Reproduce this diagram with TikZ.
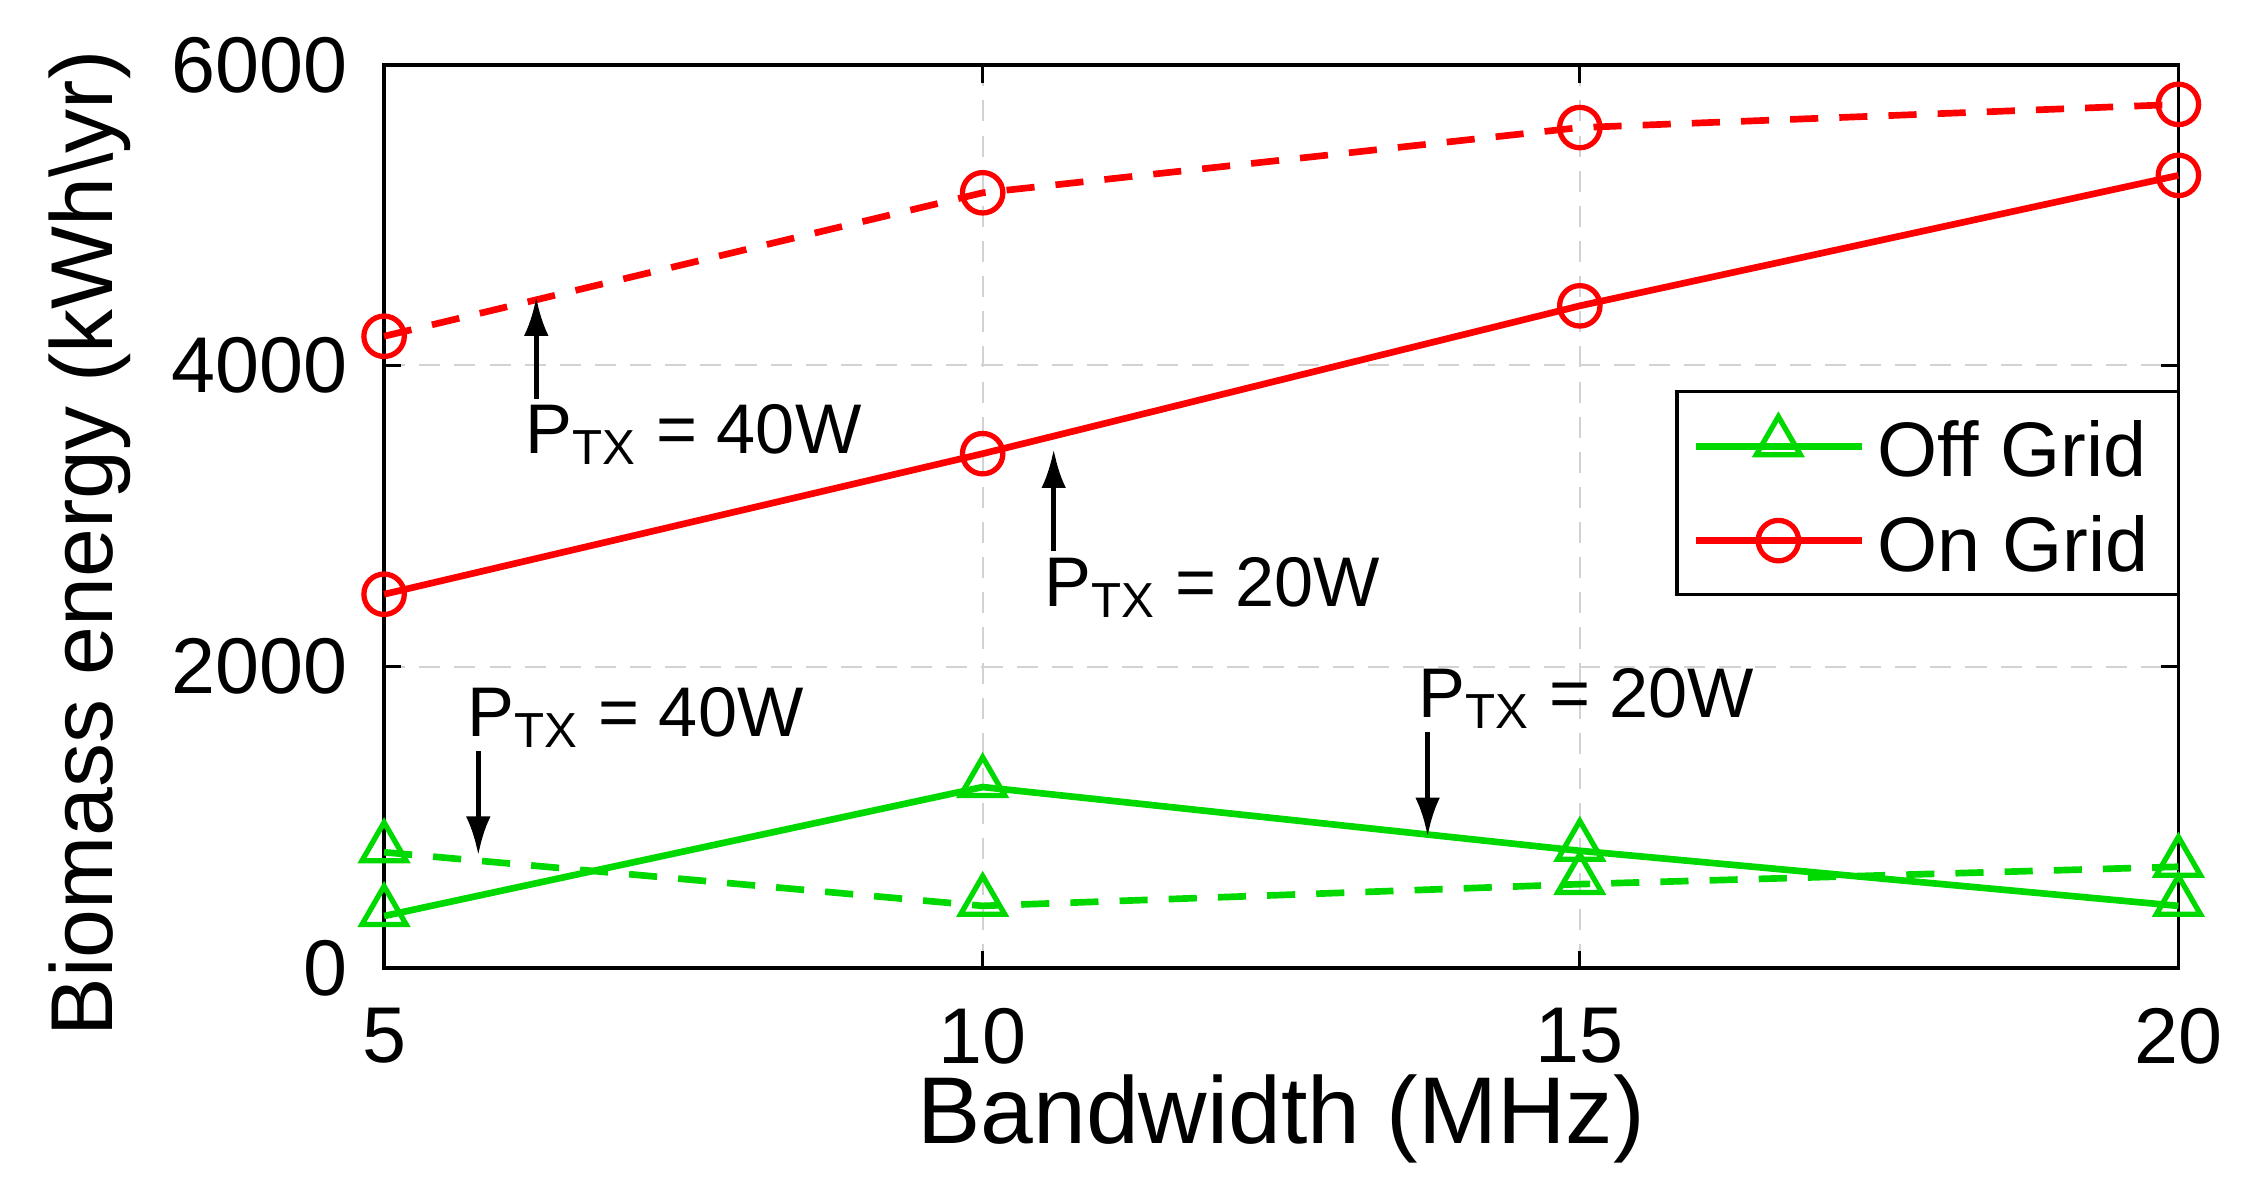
\documentclass[tikz,border=0pt]{standalone}
\usepackage{fontspec}
\setmainfont{Liberation Sans}
\usetikzlibrary{arrows.meta,shapes.geometric}
\begin{document}
\begin{tikzpicture}[x=0.01449cm,y=-0.01449cm,
  ln/.style={line width=1.9pt},
  dsh/.style={ln,dash pattern=on 8pt off 6pt},
  grd/.style={draw=gray!35,line width=0.6pt,dash pattern=on 6pt off 4pt},
  omark/.style={circle,draw=red,line width=1.5pt,inner sep=0pt,minimum size=11.5pt},
  tmark/.style={regular polygon,regular polygon sides=3,draw=green!85!black,line width=1.5pt,inner sep=0pt,minimum size=14.5pt},
  ann/.style={font=\fontsize{20}{23}\selectfont,anchor=west,inner sep=0pt},
  arr/.style={line width=1.4pt,-{Latex[length=11pt,width=7pt]}},
  tick/.style={font=\fontsize{22.5}{25}\selectfont}]
\useasboundingbox (0,0) rectangle (1560,813);
\fill[white] (0,0) rectangle (1560,813);
% grid
\foreach \x in {678,1090} \draw[grd] (\x,45) -- (\x,668);
\foreach \y in {252,460} \draw[grd] (265,\y) -- (1503,\y);
% ticks
\foreach \x in {678,1090} {\draw[line width=0.8pt] (\x,668) -- (\x,656); \draw[line width=0.8pt] (\x,45) -- (\x,57);}
\foreach \y in {252,460} {\draw[line width=0.8pt] (265,\y) -- (277,\y); \draw[line width=0.8pt] (1503,\y) -- (1491,\y);}
\draw[line width=1pt] (265,45) rectangle (1503,668);
% tick labels
\foreach \x/\l in {265/5,678/10,1090/15,1503/20} \node[tick,anchor=north,inner sep=0pt] at (\x,695) {\l};
\foreach \y/\l in {668/0,460/2000,252/4000,45/6000} \node[tick,anchor=east] at (248,\y) {\l};
\node[font=\fontsize{27}{30}\selectfont] at (884,772) {Bandwidth (MHz)};
\node[font=\fontsize{25}{28}\selectfont,rotate=90] at (62,375) {Biomass energy (kWh\textbackslash yr)};
% curves
\draw[dsh,red] (265,232) -- (678,133) -- (1090,88) -- (1503,72);
\draw[ln,red] (265,410) -- (678,313) -- (1090,211) -- (1503,121);
\draw[ln,green!85!black] (265,632) -- (678,543) -- (1090,587) -- (1503,625);
\draw[dsh,green!85!black] (265,588) -- (678,625) -- (1090,610) -- (1503,598);
\foreach \x/\y in {265/232,678/133,1090/88,1503/72,265/410,678/313,1090/211,1503/121}
  \node[omark] at (\x,\y) {};
\foreach \x/\y in {265/632,678/543,1090/587,1503/625,265/588,678/625,1090/610,1503/598}
  \node[tmark] at (\x,\y-3) {};
% annotations
\node[ann] (a1) at (362,300) {P$_{\mathrm{TX}}$ = 40W};
\draw[arr] (370,275) -- (370,205);
\node[ann] (a2) at (720,405) {P$_{\mathrm{TX}}$ = 20W};
\draw[arr] (727,380) -- (727,310);
\node[ann] (a3) at (322,495) {P$_{\mathrm{TX}}$ = 40W};
\draw[arr] (330,518) -- (330,590);
\node[ann] (a4) at (978,482) {P$_{\mathrm{TX}}$ = 20W};
\draw[arr] (985,505) -- (985,577);
% legend
\draw[line width=1pt,fill=white] (1157,270) rectangle (1503,410);
\draw[ln,green!85!black] (1170,308) -- (1285,308);
\node[tmark] at (1227,305) {};
\draw[ln,red] (1170,373) -- (1285,373);
\node[omark] at (1227,373) {};
\node[ann,font=\fontsize{22}{25}\selectfont] at (1295,310) {Off Grid};
\node[ann,font=\fontsize{22}{25}\selectfont] at (1295,375) {On Grid};
\end{tikzpicture}
\end{document}
